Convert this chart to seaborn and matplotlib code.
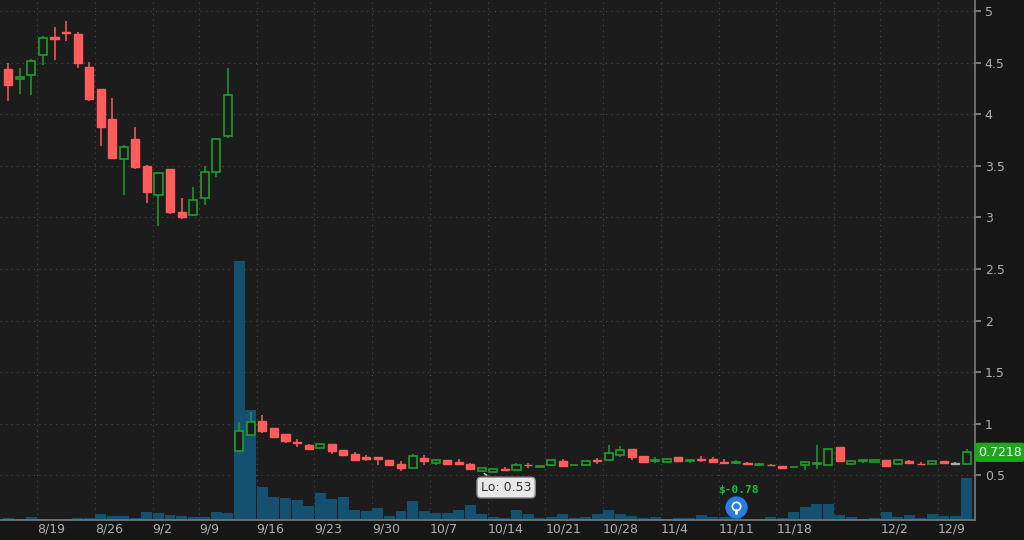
import numpy as np
import pandas as pd
import matplotlib
matplotlib.use("Agg")
import matplotlib.pyplot as plt
from matplotlib.patches import Rectangle
import matplotlib.transforms as mtransforms
import seaborn as sns

opens = [4.44,4.34,4.38,4.58,4.75,4.80,4.78,4.46,4.25,3.96,3.57,3.76,3.50,3.22,3.47,3.05,3.02,3.19,3.44,3.79,
         0.73,0.89,1.03,0.96,0.90,0.82,0.79,0.76,0.80,0.74,0.71,0.68,0.68,0.65,0.61,0.57,0.67,0.62,0.65,0.63,
         0.61,0.54,0.535,0.56,0.55,0.60,0.575,0.60,0.635,0.595,0.60,0.65,0.65,0.70,0.75,0.69,0.64,0.625,0.68,0.64,
         0.66,0.66,0.63,0.62,0.615,0.60,0.60,0.59,0.575,0.595,0.605,0.60,0.77,0.61,0.635,0.63,0.65,0.61,0.635,0.61,
         0.61,0.635,0.61,0.61]
highs = [4.50,4.45,4.54,4.76,4.85,4.91,4.80,4.51,4.25,4.16,3.70,3.88,3.51,3.44,3.47,3.19,3.30,3.50,3.77,4.45,
         1.02,1.11,1.08,0.96,0.90,0.85,0.80,0.81,0.80,0.74,0.72,0.70,0.68,0.65,0.64,0.71,0.70,0.66,0.65,0.66,
         0.62,0.57,0.56,0.58,0.62,0.62,0.59,0.65,0.66,0.60,0.635,0.67,0.79,0.78,0.75,0.69,0.68,0.66,0.68,0.66,
         0.69,0.68,0.66,0.65,0.63,0.62,0.61,0.59,0.58,0.64,0.79,0.76,0.77,0.64,0.65,0.65,0.65,0.65,0.65,0.63,
         0.64,0.64,0.63,0.75]
lows = [4.13,4.20,4.19,4.48,4.53,4.71,4.45,4.13,3.69,3.57,3.22,3.47,3.14,2.92,3.03,2.99,3.01,3.12,3.39,3.77,
        0.72,0.89,0.91,0.86,0.81,0.77,0.75,0.76,0.71,0.69,0.65,0.64,0.60,0.60,0.54,0.57,0.60,0.60,0.61,0.61,
        0.555,0.53,0.535,0.54,0.55,0.57,0.575,0.59,0.59,0.595,0.60,0.61,0.65,0.68,0.65,0.62,0.62,0.625,0.63,0.62,
        0.63,0.625,0.61,0.61,0.60,0.59,0.59,0.565,0.565,0.55,0.56,0.60,0.635,0.60,0.62,0.63,0.59,0.61,0.61,0.60,
        0.61,0.61,0.60,0.61]
closes = [4.29,4.36,4.52,4.74,4.73,4.79,4.50,4.15,3.88,3.58,3.68,3.49,3.25,3.43,3.05,3.00,3.17,3.44,3.76,4.19,
          0.93,1.02,0.93,0.87,0.83,0.81,0.75,0.80,0.73,0.70,0.65,0.66,0.66,0.60,0.57,0.69,0.64,0.65,0.61,0.61,
          0.555,0.565,0.56,0.55,0.60,0.595,0.59,0.645,0.59,0.60,0.635,0.635,0.715,0.74,0.68,0.625,0.65,0.66,0.64,0.65,
          0.65,0.625,0.615,0.63,0.605,0.605,0.595,0.57,0.58,0.63,0.615,0.75,0.635,0.64,0.645,0.645,0.59,0.645,0.62,0.605,
          0.64,0.615,0.61,0.72]
volume = [2,1,3,1,1,1,2,2,6,4,4,2,8,7,5,4,3,3,8,7,
          259,110,33,23,22,20,14,27,21,23,10,9,12,4,9,19,9,7,7,10,
          15,6,3,2,10,6,2,3,6,2,3,6,10,6,4,2,3,1,2,2,
          5,3,3,3,1,1,3,2,8,13,16,16,5,3,1,2,8,3,5,2,
          6,4,4,42]
tick_labels = ["8/19","8/26","9/2","9/9","9/16","9/23","9/30","10/7","10/14","10/21",
               "10/28","11/4","11/11","11/18","12/2","12/9"]
tick_pos = [2.5,7.5,12.5,16.5,21.5,26.5,31.5,36.5,41.5,46.5,51.5,56.5,61.5,66.5,75.5,80.5]
grid_pos = tick_pos[:14] + [71.5] + tick_pos[14:]

n = len(opens)
idx = np.arange(n)
BG = "#1c1c1c"
GREEN = "#1f9e2c"
RED = "#ff5c5c"

sns.set_theme(style="dark")
plt.rcParams['font.family'] = ['DejaVu Sans']
fig = plt.figure(figsize=(10.24, 5.40), dpi=100)
fig.patch.set_facecolor("#161616")
axv = fig.add_axes([0, 20/540, 975/1024, 520/540])
ax = axv.twinx()
axv.set_facecolor(BG)
ax.set_zorder(axv.get_zorder() + 1)
ax.patch.set_visible(False)

df = pd.DataFrame({"i": idx, "vol": volume})
sns.barplot(data=df, x="i", y="vol", ax=axv, color="#14506f", saturation=1, width=0.95,
            native_scale=True, edgecolor="none")
axv.set_ylim(0, 520)
axv.set_yticks([])
axv.set_xticks([])
axv.set_xlabel(""); axv.set_ylabel("")

for i in range(n):
    o, h, l, c = opens[i], highs[i], lows[i], closes[i]
    if c > o:
        col = GREEN
    elif c < o:
        col = RED
    else:
        col = "#aaaaaa"
    ax.plot([i, i], [l, h], color=col, lw=1.1, zorder=3, solid_capstyle="butt")
    lo, hi = min(o, c), max(o, c)
    hgt = max(hi - lo, 0.006)
    if c > o:
        ax.add_patch(Rectangle((i - 0.35, lo), 0.7, hgt, facecolor=BG, edgecolor=col, lw=1.2, zorder=4))
    else:
        ax.add_patch(Rectangle((i - 0.35, lo), 0.7, hgt, facecolor=col, edgecolor=col, lw=1.0, zorder=4))

ax.set_xlim(-0.72, 83.7)
ax.set_ylim(0.065, 5.11)
yt = [0.5, 1, 1.5, 2, 2.5, 3, 3.5, 4, 4.5, 5]
ax.set_yticks(yt)
ax.set_yticklabels(["0.5","1","1.5","2","2.5","3","3.5","4","4.5","5"], color="#b0b0b0", fontsize=9)
ax.yaxis.tick_right()
ax.tick_params(axis="y", length=4, color="#888888", pad=3, right=True)
for y in yt:
    ax.axhline(y, color="#4a4a4a", lw=0.8, ls=(0, (1, 4)), zorder=1)
for x in grid_pos:
    ax.axvline(x, color="#4a4a4a", lw=0.8, ls=(0, (1, 4)), zorder=1)
ax.set_xticks([])
trans = mtransforms.blended_transform_factory(ax.transData, ax.transAxes)
for p, lab in zip(tick_pos, tick_labels):
    ax.text(p, -0.004, lab, transform=trans, color="#b0b0b0", fontsize=9, ha="left", va="top",
            clip_on=False)
for a in (ax, axv):
    for s in a.spines.values():
        s.set_visible(False)
ax.spines["right"].set_visible(True)
ax.spines["right"].set_color("#777777")
ax.spines["bottom"].set_visible(True)
ax.spines["bottom"].set_color("#777777")

ax.text(83.95, 0.7218, "0.7218", color="white", fontsize=9, va="center", ha="left",
        bbox=dict(boxstyle="round,pad=0.25", fc="#1fa51f", ec="none"), clip_on=False, zorder=6)
ax.annotate("Lo: 0.53", xy=(41, 0.53), xytext=(43.1, 0.38), color="#333333", fontsize=9,
            ha="center", va="center", zorder=7,
            bbox=dict(boxstyle="round,pad=0.3", fc="#e8e8e8", ec="#999999"),
            arrowprops=dict(arrowstyle="-", color="#cccccc", lw=1))
ax.text(63.2, 0.36, "$-0.78", color="#1fbf2f", fontsize=8, fontweight="bold", ha="center",
        va="center", family="DejaVu Sans Mono", zorder=7)
ax.plot([63.0], [0.19], marker="o", ms=15, color="#2a7de1", zorder=7)
ax.plot([63.0], [0.205], marker="o", ms=6, mfc="none", mec="white", mew=1.2, zorder=8)
ax.plot([63.0, 63.0], [0.13, 0.165], color="white", lw=2, zorder=8)

fig.savefig("out.png", dpi=100, facecolor=fig.get_facecolor())
